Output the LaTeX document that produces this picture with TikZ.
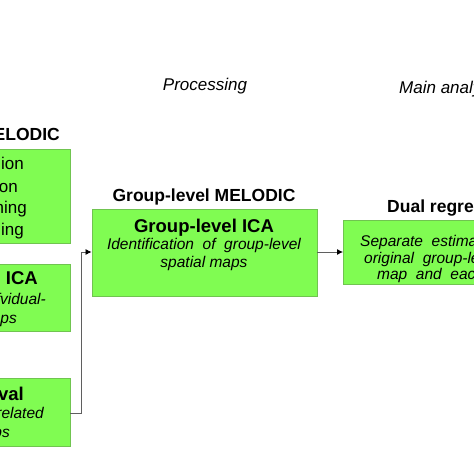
\documentclass[tikz,border=0pt]{standalone}
\usepackage{fontspec}
\setmainfont{Liberation Sans}
\usetikzlibrary{arrows.meta}
\definecolor{boxfill}{RGB}{128,252,82}
\definecolor{boxedge}{RGB}{112,196,80}
\definecolor{wire}{RGB}{95,95,95}
\tikzset{
  greenbox/.style={draw=boxedge,fill=boxfill,line width=0.9pt},
  wirel/.style={draw=wire,line width=0.8pt},
  tip/.style={-{Latex[length=6pt,width=6pt,color=black,fill=black]}},
  heading/.style={font=\fontsize{17.5}{20}\selectfont\bfseries,anchor=base,inner sep=0pt},
  titletext/.style={font=\fontsize{18.5}{21}\selectfont\bfseries,anchor=base,inner sep=0pt},
  ittext/.style={font=\fontsize{15.5}{18}\selectfont\itshape,anchor=base,inner sep=0pt},
  rmtext/.style={font=\fontsize{17}{20}\selectfont,anchor=base,inner sep=0pt},
  phase/.style={font=\fontsize{17}{20}\selectfont\itshape,anchor=base,inner sep=0pt}
}
\begin{document}
\begin{tikzpicture}[x=1pt,y=-1pt]
\useasboundingbox (0,0) rectangle (474,474);
\clip (0,0) rectangle (474,474);
\fill[white] (0,0) rectangle (474,474);
% phase titles
\node[phase] (proc) at (205,90) {Processing};
\node[phase,anchor=base west] (main) at (399,93) {Main analysis};
% left column
\node[heading,anchor=base east] (h1) at (60,140) {MELODIC};
\path[greenbox] (-10,149) rectangle (70,243);
\coordinate (b1) at (70,196);
\node[rmtext,anchor=base east] (t11) at (24,169) {ion};
\node[rmtext,anchor=base east] (t12) at (18,192) {on};
\node[rmtext,anchor=base east] (t13) at (27,213) {ning};
\node[rmtext,anchor=base east] (t14) at (24,235) {ing};
\path[greenbox] (-10,264) rectangle (70,331);
\node[titletext,anchor=base east] (t21) at (38,284) {l ICA};
\node[ittext,anchor=base east] (t22) at (46,304) {fvidual-};
\node[ittext,anchor=base east] (t23) at (17,323) {ps};
\path[greenbox] (-10,378) rectangle (70,446);
\coordinate (b3) at (70,413);
\node[titletext,anchor=base east] (t31) at (24,400) {val};
\node[ittext,anchor=base east] (t32) at (44,418) {related};
\node[ittext,anchor=base east] (t33) at (10,437) {ps};
% group level
\node[heading] (h4) at (204,201) {Group-level MELODIC};
\node[greenbox,minimum width=225pt,minimum height=87pt,inner sep=0pt] (b4) at (204.5,252.5) {};
\node[titletext] (t41) at (204,232) {Group-level ICA};
\node[ittext] (t42) at (204,249) {Identification \ of \ group-level};
\node[ittext] (t43) at (204,267) {spatial maps};
% dual regression
\node[heading,anchor=base west] (h5) at (387,212) {Dual regression};
\path[greenbox] (343,220) rectangle (520,284);
\coordinate (b5) at (343,252);
\node[ittext,anchor=base west] (t51) at (360,246) {Separate \ estimation};
\node[ittext,anchor=base west] (t52) at (364,263) {original \ group-level};
\node[ittext,anchor=base west] (t53) at (377,279) {map \ and \ each};
% connectors
\coordinate (k1) at (81,413);
\coordinate (k2) at (81,252);
\draw[wirel,tip] (b3) -- (k1) -- (k2) -- (b4.west |- k2);
\draw[wirel,tip] (b4.east |- b5) -- (b5);
\end{tikzpicture}
\end{document}
